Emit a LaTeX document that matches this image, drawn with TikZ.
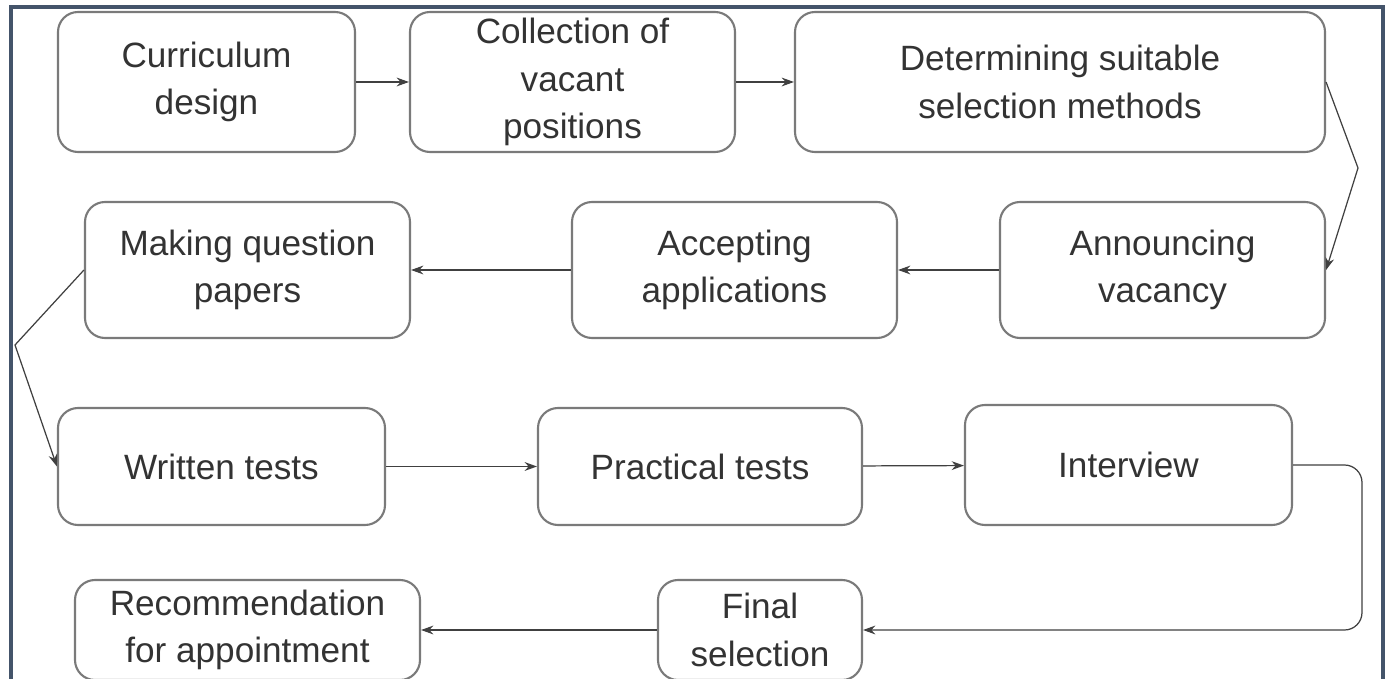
\documentclass[tikz,border=0pt]{standalone}
\usepackage{fontspec}
\setmainfont{Liberation Sans}
\usetikzlibrary{arrows.meta}
\definecolor{frameCol}{HTML}{44546A}
\definecolor{boxLine}{HTML}{7A7A7A}
\definecolor{txtCol}{HTML}{333333}

\tikzset{
  stage/.style={draw=boxLine, line width=1.2pt, rounded corners=0.4cm, align=center,
    text=txtCol, font=\fontsize{20}{27}\selectfont, inner sep=0pt},
  flow/.style={draw=black!75, line width=0.7pt, -{Stealth[length=7pt,width=5pt]}}
}

\begin{document}
\begin{tikzpicture}
         \useasboundingbox (0,0) rectangle (28,13.56);
         \fill[white] (0,0) rectangle (28,13.56);
         \draw[frameCol, line width=0.07cm] (0.22,-0.1) -- (0.22,13.42) -- (27.66,13.42) -- (27.66,-0.1);
         
         % first row
         \node[stage, minimum width=5.94cm, minimum height=2.8cm] (design) at (4.13,11.92) {Curriculum\\design};
         \node[stage, minimum width=6.5cm, minimum height=2.8cm] (vacant) at (11.45,11.92) {Collection of\\vacant\\positions};
         \node[stage, minimum width=10.6cm, minimum height=2.8cm] (methods) at (21.2,11.92) {Determining suitable\\selection methods};
         
         % second row
         \node[stage, minimum width=6.5cm, minimum height=2.72cm] (announce) at (23.25,8.16) {Announcing\\vacancy};
         \node[stage, minimum width=6.5cm, minimum height=2.72cm] (accept) at (14.69,8.16) {Accepting\\applications};
         \node[stage, minimum width=6.5cm, minimum height=2.72cm] (papers) at (4.95,8.16) {Making question\\papers};
         
         % third row
         \node[stage, minimum width=6.54cm, minimum height=2.34cm] (written) at (4.43,4.23) {Written tests};
         \node[stage, minimum width=6.48cm, minimum height=2.34cm] (practical) at (14.0,4.23) {Practical tests};
         \node[stage, minimum width=6.54cm, minimum height=2.4cm] (interview) at (22.57,4.26) {Interview};
         
         % last row
         \node[stage, minimum width=4.08cm, minimum height=2.0cm] (final) at (15.2,0.96) {Final\\selection};
         \node[stage, minimum width=6.9cm, minimum height=2.0cm] (recommend) at (4.95,0.96) {Recommendation\\for appointment};
         
         \coordinate (bendA) at (27.16,10.2);
         \coordinate (bendB) at (0.3,6.66);
         \coordinate (bendC) at (27.24,4.26);
         
         \draw[flow] (design) -- (vacant);
         \draw[flow] (vacant) -- (methods);
         \draw[flow] (methods.east) -- (bendA) -- (announce.east);
         \draw[flow] (announce) -- (accept);
         \draw[flow] (accept) -- (papers);
         \draw[flow] (papers.west) -- (bendB) -- (written.west);
         \draw[flow] (written) -- (practical);
         \draw[flow] (practical) -- (interview);
         \draw[flow, rounded corners=0.35cm] (interview.east) -- (bendC) |- (final.east);
         \draw[flow] (final) -- (recommend);
      \end{tikzpicture}
\end{document}
